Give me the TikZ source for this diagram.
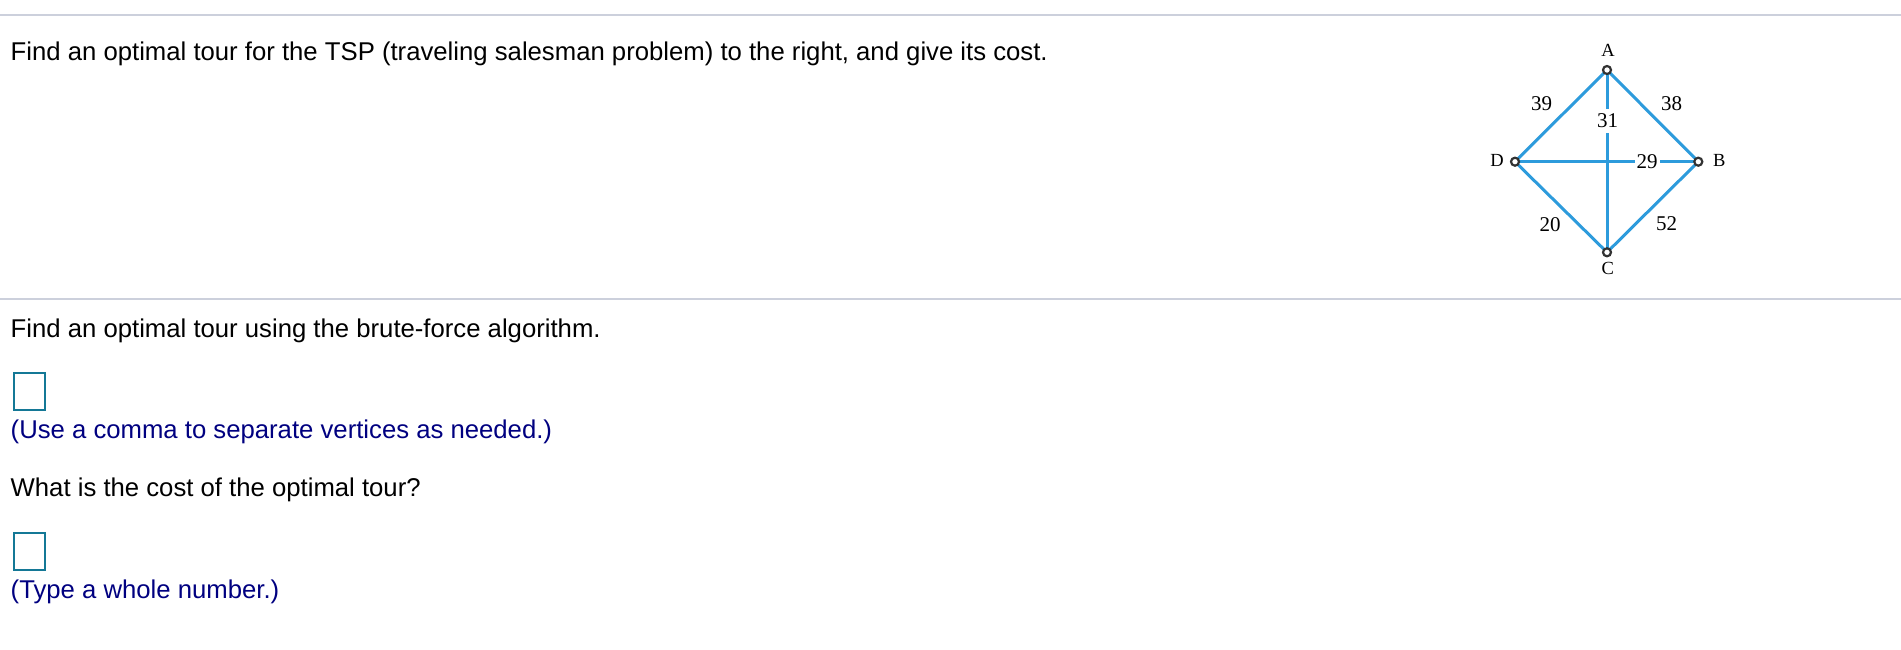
\documentclass[tikz,border=0pt]{standalone}
\usepackage{fontspec}
\setmainfont{Liberation Sans}
\newfontfamily\graphfont{Liberation Serif}
\definecolor{rulecol}{RGB}{204,208,220}
\definecolor{edgecol}{RGB}{45,155,220}
\definecolor{boxcol}{RGB}{20,120,150}
\definecolor{navy}{RGB}{0,0,128}
\definecolor{vtxcol}{RGB}{50,50,50}
\tikzset{
  txt/.style={anchor=base west, inner sep=0pt, font=\fontsize{25.7pt}{30pt}\selectfont},
  hint/.style={txt, text=navy},
  ansbox/.style={draw=boxcol, line width=2pt, minimum width=31pt, minimum height=37pt, inner sep=0pt},
  sep/.style={draw=rulecol, line width=2pt},
  vtx/.style={circle, draw=vtxcol, fill=white, line width=2.2pt, minimum size=8pt, inner sep=0pt},
  edge/.style={draw=edgecol, line width=3pt},
  vlab/.style={font=\graphfont\fontsize{18.5pt}{18.5pt}\selectfont, inner sep=0pt},
  wlab/.style={font=\graphfont\fontsize{21pt}{21pt}\selectfont, inner sep=0pt},
  wlabw/.style={wlab, fill=white, inner xsep=2pt, inner ysep=5pt}
}
\begin{document}
\begin{tikzpicture}[x=1pt, y=-1pt]
\useasboundingbox (0,0) rectangle (1901,650);
% separator rules
\coordinate (r1a) at (0,15);
\coordinate (r1b) at (1901,15);
\coordinate (r2a) at (0,298.5);
\coordinate (r2b) at (1901,298.5);
\draw[sep] (r1a) -- (r1b);
\draw[sep] (r2a) -- (r2b);
% texts
\node[txt] (t1) at (10.5,61) {Find an optimal tour for the TSP (traveling salesman problem) to the right, and give its cost.};
\node[txt] (t2) at (10.5,337.5) {Find an optimal tour using the brute-force algorithm.};
\node[ansbox] (b1) at (29.8,391.6) {};
\node[hint] (t3) at (10.5,438) {(Use a comma to separate vertices as needed.)};
\node[txt] (t4) at (10.5,496) {What is the cost of the optimal tour?};
\node[ansbox] (b2) at (29.8,551.6) {};
\node[hint] (t5) at (10.5,598.3) {(Type a whole number.)};
% graph
\coordinate (A) at (1607,70);
\coordinate (D) at (1515,161.7);
\coordinate (B) at (1698.3,161.7);
\coordinate (C) at (1607,252.3);
\draw[edge] (A) -- (D);
\draw[edge] (A) -- (B);
\draw[edge] (A) -- (C);
\draw[edge] (D) -- (B);
\draw[edge] (D) -- (C);
\draw[edge] (B) -- (C);
\node[wlab] (w39) at (1541.7,103.3) {39};
\node[wlab] (w38) at (1671.7,103.3) {38};
\node[wlabw] (w31) at (1607.5,121) {31};
\node[wlabw] (w29) at (1647,161.7) {29};
\node[wlab] (w20) at (1550,225) {20};
\node[wlab] (w52) at (1666.7,223.3) {52};
\node[vtx] (vA) at (A) {};
\node[vtx] (vB) at (B) {};
\node[vtx] (vC) at (C) {};
\node[vtx] (vD) at (D) {};
\node[vlab] (lA) at (1608,50) {A};
\node[vlab] (lD) at (1497,160.5) {D};
\node[vlab] (lB) at (1719.3,160) {B};
\node[vlab] (lC) at (1607.7,268.3) {C};
\end{tikzpicture}
\end{document}
